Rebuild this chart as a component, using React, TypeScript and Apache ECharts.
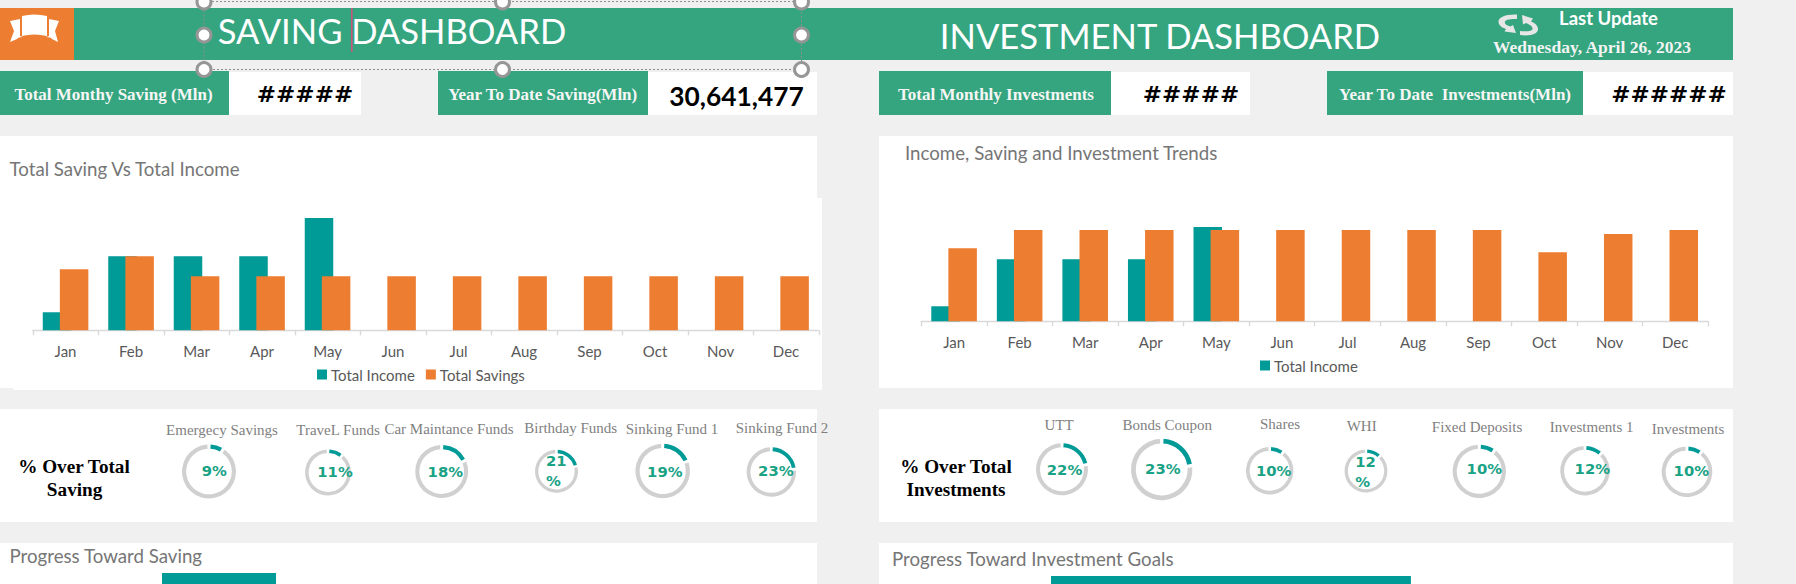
import React, { useEffect, useRef } from "react";
import * as echarts from "echarts";

const months = ["Jan", "Feb", "Mar", "Apr", "May", "Jun", "Jul", "Aug", "Sep", "Oct", "Nov", "Dec"];
const savingChartIncome = [1.8, 7.4, 7.4, 7.4, 11.2, null, null, null, null, null, null, null];
const savingChartSavings = [6.1, 7.4, 5.4, 5.4, 5.4, 5.4, 5.4, 5.4, 5.4, 5.4, 5.4, 5.4];
const trendChartIncome = [1.5, 6.2, 6.2, 6.2, 9.4, null, null, null, null, null, null, null];
const trendChartInvest = [7.3, 9.1, 9.1, 9.1, 9.1, 9.1, 9.1, 9.1, 9.1, 6.9, 8.7, 9.1];
const savingProgress = [17.9];
const investProgress = [53.8];

const savingNames = ["Emergecy Savings", "TraveL Funds", "Car Maintance Funds", "Birthday Funds", "Sinking Fund 1", "Sinking Fund 2"];
const savingPct = [9, 11, 18, 21, 19, 23];
const investNames = ["UTT", "Bonds Coupon", "Shares", "WHI", "Fixed Deposits", "Investments 1", "Investments"];
const investPct = [22, 23, 10, 12, 10, 12, 10];

const GREEN = "#34A57F";
const ORANGE = "#ED7D31";
const TEAL = "#009A97";
const BG = "#F0F0F0";
const RING = "#D0D0D0";
const PCT = "#1AA285";
const SERIF = "'Liberation Serif', serif";
const SANS = "Lato, sans-serif";
const DEJA = "'DejaVu Sans', sans-serif";

// Layout: [ring cx, cy, r, pct x, pct y, name x, name y]; wrapped pct labels are drawn left aligned on two rows.
const savingLayout = [
  [209, 471.5, 27, 214.3, 470.7, 222, 430],
  [328, 472.5, 23, 335, 471.3, 338, 430],
  [441.7, 471.5, 26.5, 445.3, 471.3, 449, 429.3],
  [556.5, 471.3, 21.5, 546, 460.3, 570.7, 428.3],
  [662.7, 471, 27.3, 664.8, 471.3, 672, 429.3],
  [771.3, 472, 24.7, 775.8, 470.3, 782, 428.3],
];
const investLayout = [
  [1062, 469.3, 26, 1064.5, 469.3, 1059, 425],
  [1161.7, 469.5, 30.7, 1162.8, 468.3, 1167.3, 425],
  [1269.7, 470.7, 23.7, 1273.7, 470.3, 1280, 424.3],
  [1366, 471, 21.5, 1355.3, 461.3, 1361.7, 426.3],
  [1479.3, 471.3, 26.7, 1484.3, 468.3, 1477, 427.3],
  [1585, 470.7, 24.8, 1592.3, 468.3, 1591.7, 427.3],
  [1687, 471.8, 25.3, 1691.3, 470.3, 1688, 429.3],
];
const wrapped = new Set([3]);

const BANNER =
  "M22,16 Q34,13 47,16 L47,36 Q34,33 22,36 Z M10,21 L20,19 L20,36 L23,37 Q18,37 17,39 L10,42 L14,31 Z M59,21 L49,19 L49,36 L46,37 Q51,37 52,39 L58,42 L55,31 Z";
const REFRESH =
  "M1517,14.5 C1506,14 1498,17 1498.5,22 C1499,26 1503,28 1506,29 L1504.5,31.5 L1516,33 L1513,25 L1510.5,26.5 C1507,25.5 1504,24 1505,21.5 C1506,19.5 1511,19 1517,19 Z M1520,35 C1530,36.5 1538.5,34 1538,28.5 C1537.5,25 1534,22.5 1531,21.5 L1533,18.5 L1522,15 L1523,24.5 L1526,23 C1529,24.5 1533,26 1532.5,29 C1532,31.5 1526,31.5 1520,31 Z";

function text(t: string, x: number, y: number, fontSize: number, fontFamily: string, fill: string, fontWeight: any = "normal", align = "center", z = 20) {
  return { type: "text", x, y, z, silent: true, style: { text: t, fontSize, fontFamily, fontWeight, fill, align, verticalAlign: "middle" } };
}
function rect(x: number, y: number, width: number, height: number, fill: string, z = 0) {
  return { type: "rect", z, silent: true, shape: { x, y, width, height }, style: { fill } };
}
function handle(cx: number, cy: number) {
  return { type: "circle", z: 40, silent: true, shape: { cx, cy, r: 7 }, style: { fill: "#fff", stroke: "#969696", lineWidth: 3 } };
}

function donuts(values: number[], layout: number[][]) {
  return values.map((v, i) => {
    const [cx, cy, r] = layout[i];
    return {
      type: "pie",
      silent: true,
      center: [cx, cy],
      radius: [r - r * 0.155, r],
      startAngle: 90,
      padAngle: 7,
      minAngle: 0,
      label: { show: false },
      labelLine: { show: false },
      emphasis: { disabled: true },
      z: 5,
      data: [
        { value: v, itemStyle: { color: TEAL } },
        { value: 100 - v, itemStyle: { color: RING } },
      ],
    };
  });
}

function ringTexts(names: string[], values: number[], layout: number[][], wrapSet: Set<number>) {
  const out: any[] = [];
  values.forEach((v, i) => {
    const [, , , px, py, nx, ny] = layout[i];
    out.push(text(names[i], nx, ny, 15, SERIF, "#7F7F7F"));
    if (wrapSet.has(i)) {
      out.push(text(String(v), px, py, 14.8, DEJA, PCT, "bold", "left"));
      out.push(text("%", px, py + 20, 14.8, DEJA, PCT, "bold", "left"));
    } else {
      out.push(text(v + "%", px, py, 14.8, DEJA, PCT, "bold"));
    }
  });
  return out;
}

const axisStyle = { color: "#D9D9D9", width: 1.4 };
function catAxis(gridIndex: number) {
  return {
    type: "category",
    gridIndex,
    data: months,
    axisLine: { lineStyle: axisStyle },
    axisTick: { show: true, length: 5, lineStyle: axisStyle },
    axisLabel: { color: "#595959", fontFamily: SANS, fontSize: 15, margin: 13, interval: 0 },
  };
}
function valAxis(gridIndex: number, max: number) {
  return { type: "value", gridIndex, min: 0, max, show: false, splitLine: { show: false } };
}
function barSeries(name: string, data: (number | null)[], color: string, idx: number) {
  return {
    type: "bar",
    name,
    data,
    xAxisIndex: idx,
    yAxisIndex: idx,
    barWidth: 28.5,
    barGap: "-40%",
    itemStyle: { color },
    silent: true,
    z: 4,
  };
}

const graphicEls: any[] = [
  // panels
  rect(0, 136, 817, 252, "#fff"),
  rect(13, 380, 809, 10, "#fff"),
  rect(800, 198, 22, 192, "#fff"),
  rect(879, 136, 854, 252, "#fff"),
  rect(0, 409, 817, 113, "#fff"),
  rect(879, 409, 854, 113, "#fff"),
  rect(0, 543, 817, 41, "#fff"),
  rect(879, 543, 854, 41, "#fff"),
  // header
  rect(0, 8, 1733, 52, GREEN),
  rect(0, 8, 74, 52, ORANGE, 1),
  { type: "banner", z: 3, silent: true, x: 0, y: 0, style: { fill: "#fff" } },
  { type: "refreshArrows", z: 3, silent: true, x: 0, y: 0, style: { fill: "#E6E6E6" } },
  text("SAVING DASHBOARD", 392, 30.5, 34.6, SANS, "#fff"),
  rect(351, 8, 1.6, 44, "#C8557C", 25),
  text("INVESTMENT DASHBOARD", 1160, 35.5, 34.6, SANS, "#fff"),
  text("Last Update", 1608.5, 18, 18.5, SANS, "#fff", "bold"),
  text("Wednesday, April 26, 2023", 1592, 47, 17.5, SERIF, "#F4F4F4", "bold"),
  // stat row
  rect(0, 71, 229, 44, GREEN),
  rect(229, 72, 132, 43, "#fff"),
  rect(438, 71, 210, 44, GREEN),
  rect(648, 72, 169, 43, "#fff"),
  rect(879, 71, 232, 44, GREEN),
  rect(1111, 72, 139, 43, "#fff"),
  rect(1327, 71, 256, 44, GREEN),
  rect(1583, 72, 150, 43, "#fff"),
  text("Total Monthy Saving (Mln)", 113.5, 94, 17, SERIF, "#F6F6F6", "bold"),
  text("#####", 305, 93, 23, "'DejaVu Serif', serif", "#000", "bold"),
  text("Year To Date Saving(Mln)", 542.7, 94, 17, SERIF, "#F6F6F6", "bold"),
  text("30,641,477", 736.5, 96, 26.3, SANS, "#000", "bold"),
  text("Total Monthly Investments", 996, 94, 17, SERIF, "#F6F6F6", "bold"),
  text("#####", 1191, 93, 23, "'DejaVu Serif', serif", "#000", "bold"),
  text("Year To Date  Investments(Mln)", 1455, 94, 17, SERIF, "#F6F6F6", "bold"),
  text("######", 1669, 93, 23, "'DejaVu Serif', serif", "#000", "bold"),
  // chart titles
  text("Total Saving Vs Total Income", 9.5, 169, 18.7, SANS, "#767676", "normal", "left"),
  text("Income, Saving and Investment Trends", 905, 153, 18.7, SANS, "#767676", "normal", "left"),
  text("Progress Toward Saving", 9.5, 555.5, 18.7, SANS, "#767676", "normal", "left"),
  text("Progress Toward Investment Goals", 892, 558.5, 18.7, SANS, "#767676", "normal", "left"),
  // ring panels
  text("% Over Total", 74, 466, 19.2, SERIF, "#000", "bold"),
  text("Saving", 74.6, 489, 19.2, SERIF, "#000", "bold"),
  text("% Over Total", 956, 466, 19.2, SERIF, "#000", "bold"),
  text("Investments", 956, 489, 19.2, SERIF, "#000", "bold"),
  ...ringTexts(savingNames, savingPct, savingLayout, wrapped),
  ...ringTexts(investNames, investPct, investLayout, wrapped),
  // selection frame
  { type: "rect", z: 39, silent: true, shape: { x: 204, y: 1.5, width: 597.5, height: 68 }, style: { fill: "none", stroke: "#8E8E8E", lineWidth: 1, lineDash: [2, 2] } },
  handle(204, 2), handle(502.5, 2), handle(801.5, 2),
  handle(204, 35), handle(801.5, 35),
  handle(204, 69.5), handle(502.5, 69.5), handle(801.5, 69.5),
];

export default function App() {
  const ref = useRef<HTMLDivElement>(null);
  useEffect(() => {
    document.body.style.margin = "0";
    echarts.graphic.registerShape("banner", echarts.graphic.extendPath(BANNER, {}));
    echarts.graphic.registerShape("refreshArrows", echarts.graphic.extendPath(REFRESH, {}));
    const chart = echarts.init(ref.current!, undefined, { renderer: "svg" });
    const legendBase = {
      icon: "rect",
      itemWidth: 10,
      itemHeight: 10,
      itemGap: 11,
      selectedMode: false,
      padding: 0,
      textStyle: { color: "#595959", fontFamily: SANS, fontSize: 15, padding: [0, 0, 0, -1] },
    };
    chart.setOption({
      animation: false,
      backgroundColor: BG,
      graphic: { elements: graphicEls },
      legend: [
        { ...legendBase, left: 317, top: 367, data: ["Total Income", "Total Savings"] },
        { ...legendBase, left: 1260, top: 358, data: ["Total Income"] },
      ],
      grid: [
        { left: 32.8, width: 786, top: 200, height: 130.3 },
        { left: 921.3, width: 786.7, top: 191, height: 130.3 },
        { left: 162, width: 637, top: 573, height: 40 },
        { left: 1051, width: 669, top: 576, height: 40 },
      ],
      xAxis: [
        catAxis(0),
        catAxis(1),
        { type: "value", gridIndex: 2, min: 0, max: 100, show: false, splitLine: { show: false } },
        { type: "value", gridIndex: 3, min: 0, max: 100, show: false, splitLine: { show: false } },
      ],
      yAxis: [
        valAxis(0, 13),
        valAxis(1, 13),
        { type: "category", gridIndex: 2, data: ["Saving"], show: false },
        { type: "category", gridIndex: 3, data: ["Investment"], show: false },
      ],
      series: [
        barSeries("Total Income", savingChartIncome, TEAL, 0),
        barSeries("Total Savings", savingChartSavings, ORANGE, 0),
        barSeries("Total Income", trendChartIncome, TEAL, 1),
        barSeries("Total Investments", trendChartInvest, ORANGE, 1),
        { type: "bar", name: "Saving Progress", data: savingProgress, xAxisIndex: 2, yAxisIndex: 2, barWidth: "100%", itemStyle: { color: TEAL }, silent: true },
        { type: "bar", name: "Investment Progress", data: investProgress, xAxisIndex: 3, yAxisIndex: 3, barWidth: "100%", itemStyle: { color: TEAL }, silent: true },
        ...donuts(savingPct, savingLayout),
        ...donuts(investPct, investLayout),
      ],
    });
    return () => chart.dispose();
  }, []);
  return <div ref={ref} style={{ position: "fixed", left: 0, top: 0, width: 1796, height: 584 }} />;
}
